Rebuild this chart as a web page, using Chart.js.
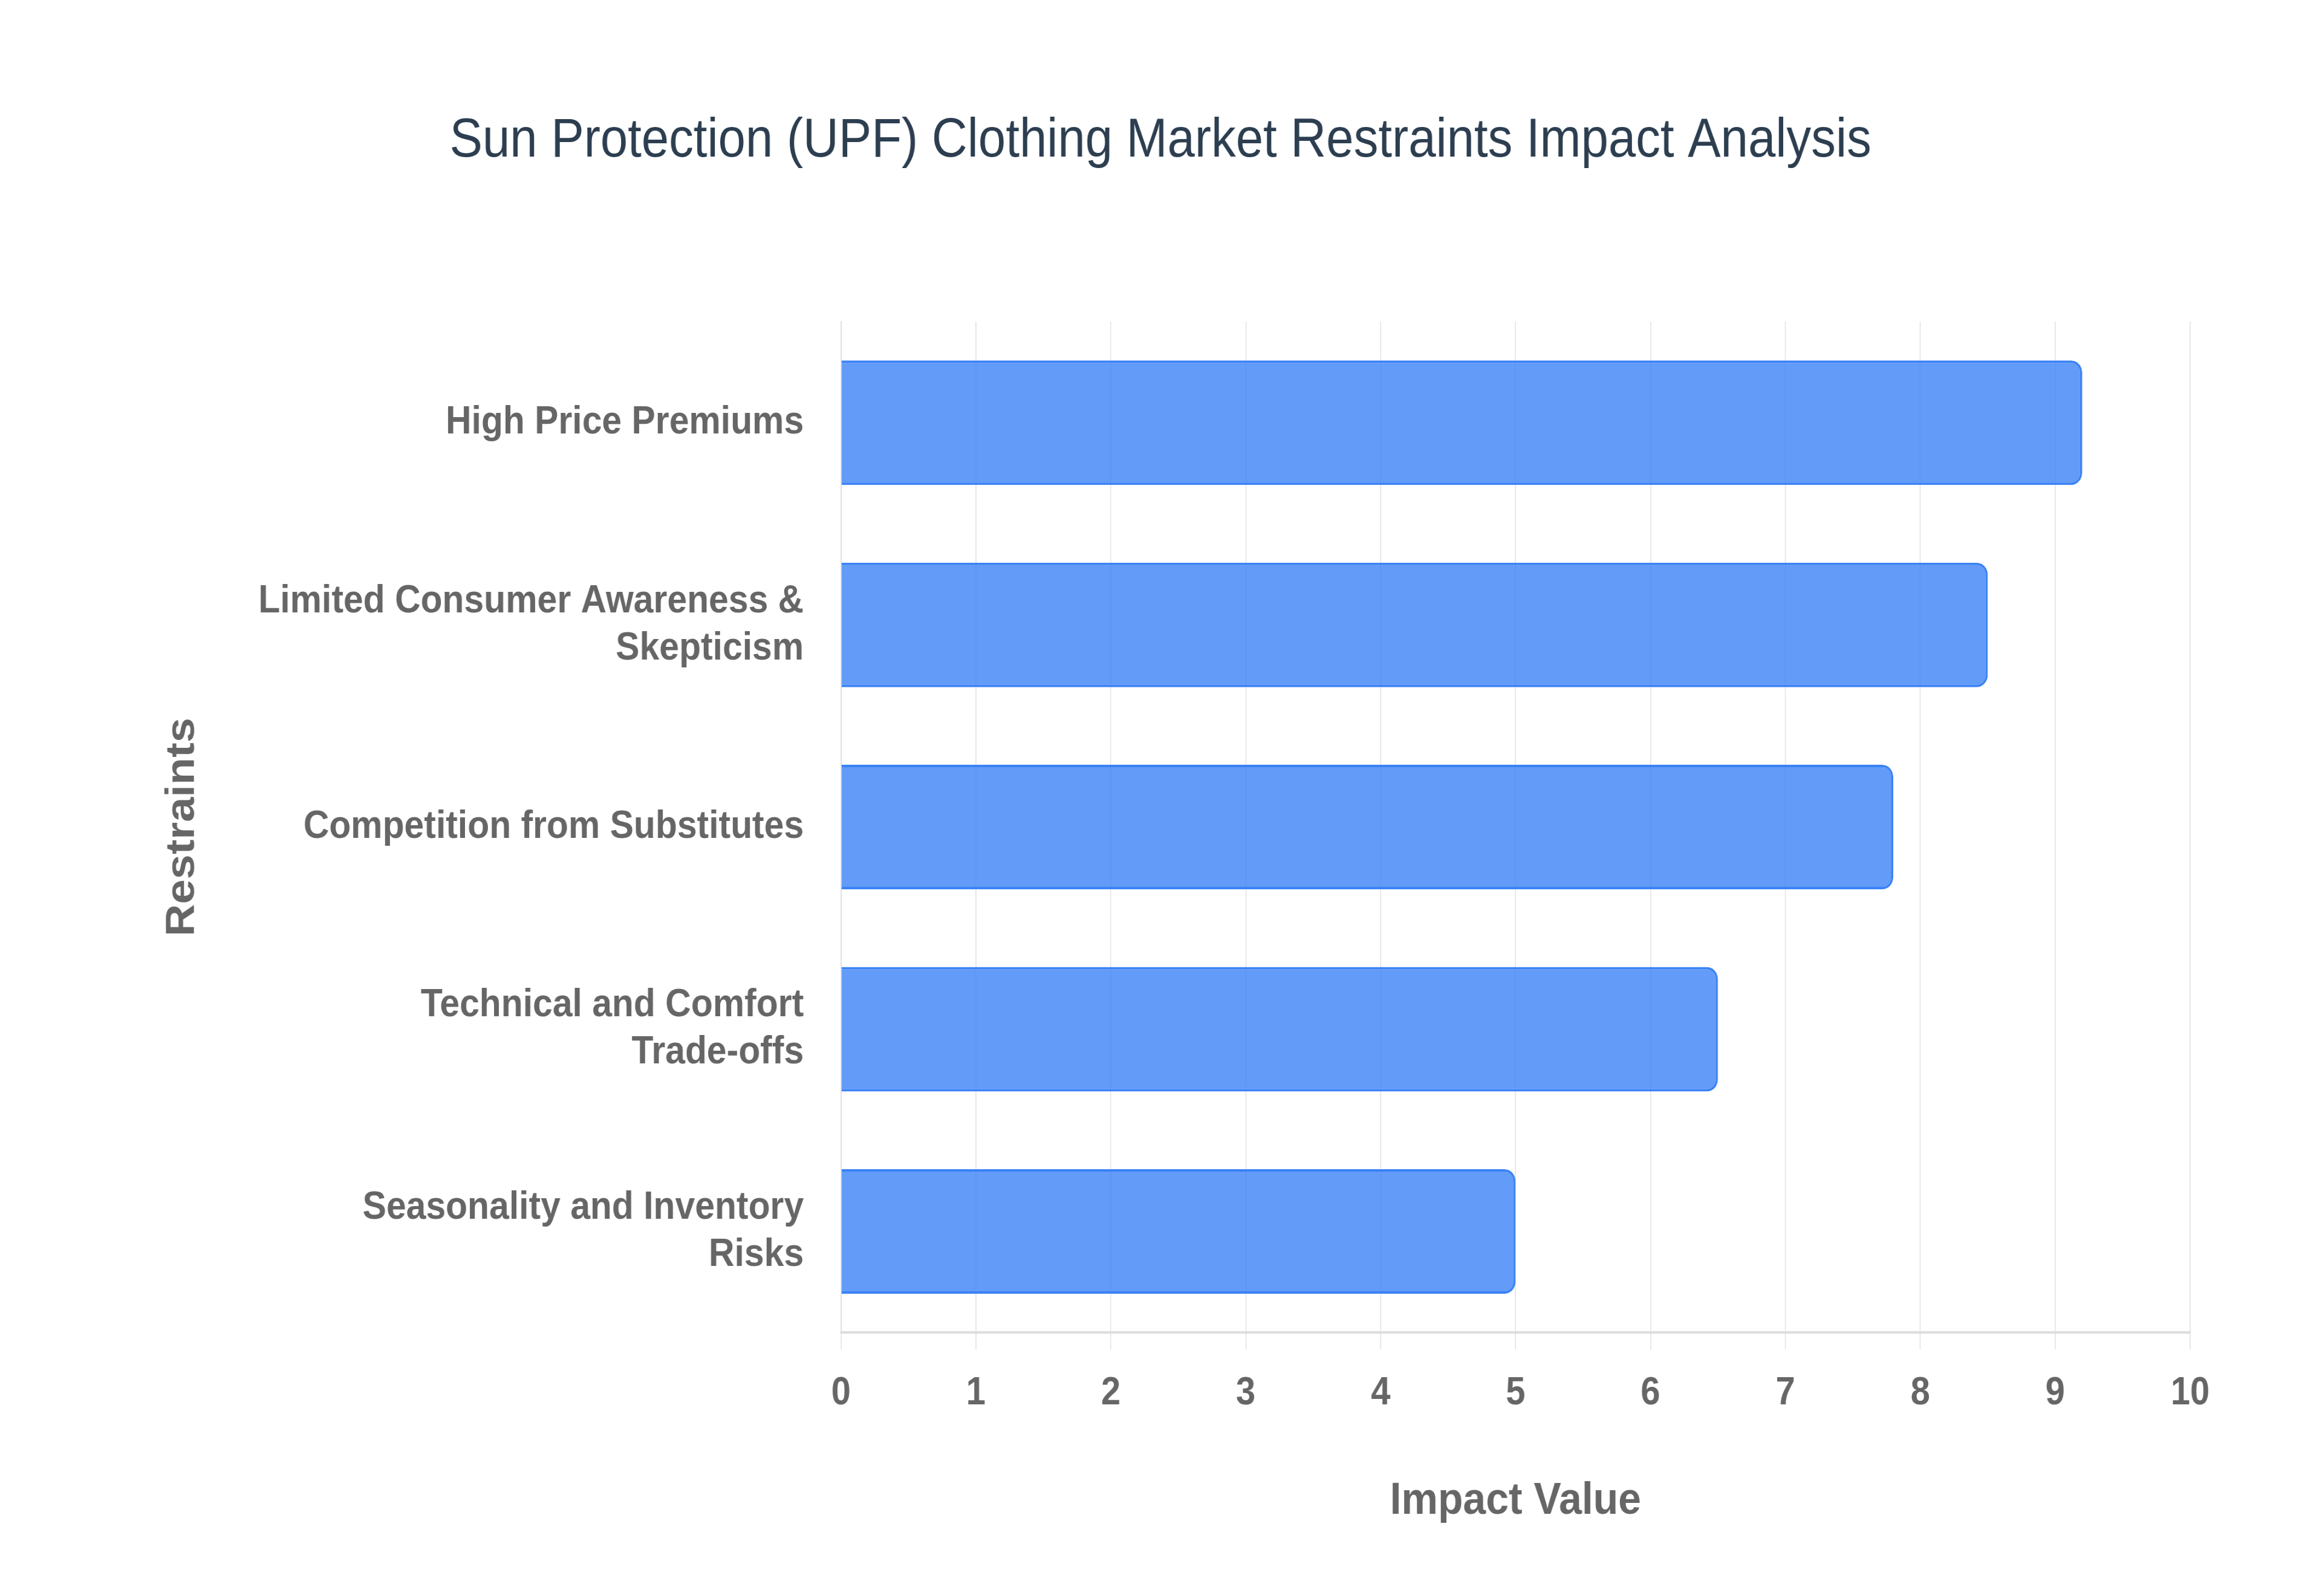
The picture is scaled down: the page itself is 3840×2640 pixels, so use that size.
<!DOCTYPE html>
<html>
<head>
<meta charset="utf-8">
<title>UPF Clothing Market Restraints</title>
<script src="https://cdn.jsdelivr.net/npm/chart.js@4.4.1/dist/chart.umd.min.js"></script>
<style>
  html, body { margin: 0; padding: 0; background: #ffffff; overflow: hidden; }
  /* the source chart is slightly squeezed horizontally, so draw wider and scale down */
  #wrap { width: 4240px; height: 2640px; transform: scaleX(0.9057); transform-origin: 0 0; }
</style>
</head>
<body>
<div id="wrap">
  <canvas id="restraintsChart" width="4240" height="2640"></canvas>
</div>
<script>
// restraint categories (multi-line labels as they wrap in the chart)
const restraints = [
    'High Price Premiums',
    ['Limited Consumer Awareness &', 'Skepticism'],
    'Competition from Substitutes',
    ['Technical and Comfort', 'Trade-offs'],
    ['Seasonality and Inventory', 'Risks']
];
const impactValues = [9.2, 8.5, 7.8, 6.5, 5.0];
const impactTicks = [0, 1, 2, 3, 4, 5, 6, 7, 8, 9, 10];

const ctx = document.getElementById('restraintsChart').getContext('2d');
new Chart(ctx, {
    type: 'bar',
    data: {
        labels: restraints,
        datasets: [{
            label: 'Impact Value',
            data: impactValues,
            backgroundColor: 'rgba(59, 130, 246, 0.8)',
            borderColor: 'rgba(59, 130, 246, 1)',
            borderWidth: 4,
            borderRadius: 20,
            categoryPercentage: 0.8,
            barPercentage: 0.77
        }]
    },
    options: {
        indexAxis: 'y',
        responsive: false,
        animation: false,
        devicePixelRatio: 1,
        layout: {
            padding: { top: 0, left: 239, right: 241, bottom: 77 }
        },
        plugins: {
            legend: { display: false },
            tooltip: { enabled: false },
            title: {
                display: true,
                text: 'Sun Protection (UPF) Clothing Market Restraints Impact Analysis',
                color: '#2c3e50',
                font: { family: 'Liberation Sans, Arial, sans-serif', size: 90, weight: 'normal' },
                padding: { top: 180, bottom: 244 }
            }
        },
        scales: {
            x: {
                min: 0,
                max: 10,
                afterBuildTicks: (scale) => {
                    scale.ticks = impactTicks.map(v => ({ value: v }));
                },
                grid: {
                    color: '#e6e6e6',
                    lineWidth: 2,
                    tickLength: 28
                },
                border: { color: '#dddddd', width: 4 },
                ticks: {
                    color: '#666666',
                    padding: 35,
                    font: { family: 'Liberation Sans, Arial, sans-serif', size: 64, weight: 'bold' }
                },
                title: {
                    display: true,
                    text: 'Impact Value',
                    color: '#666666',
                    font: { family: 'Liberation Sans, Arial, sans-serif', size: 75, weight: 'bold' },
                    padding: { top: 59, bottom: 35 }
                }
            },
            y: {
                grid: { display: false, drawTicks: false },
                border: { color: '#dddddd', width: 2 },
                ticks: {
                    color: '#666666',
                    padding: 68,
                    font: { family: 'Liberation Sans, Arial, sans-serif', size: 65, weight: 'bold' }
                },
                title: {
                    display: true,
                    text: 'Restraints',
                    color: '#666666',
                    font: { family: 'Liberation Sans, Arial, sans-serif', size: 74, weight: 'bold' },
                    padding: { top: 50, bottom: 26 }
                }
            }
        }
    }
});
</script>
</body>
</html>
